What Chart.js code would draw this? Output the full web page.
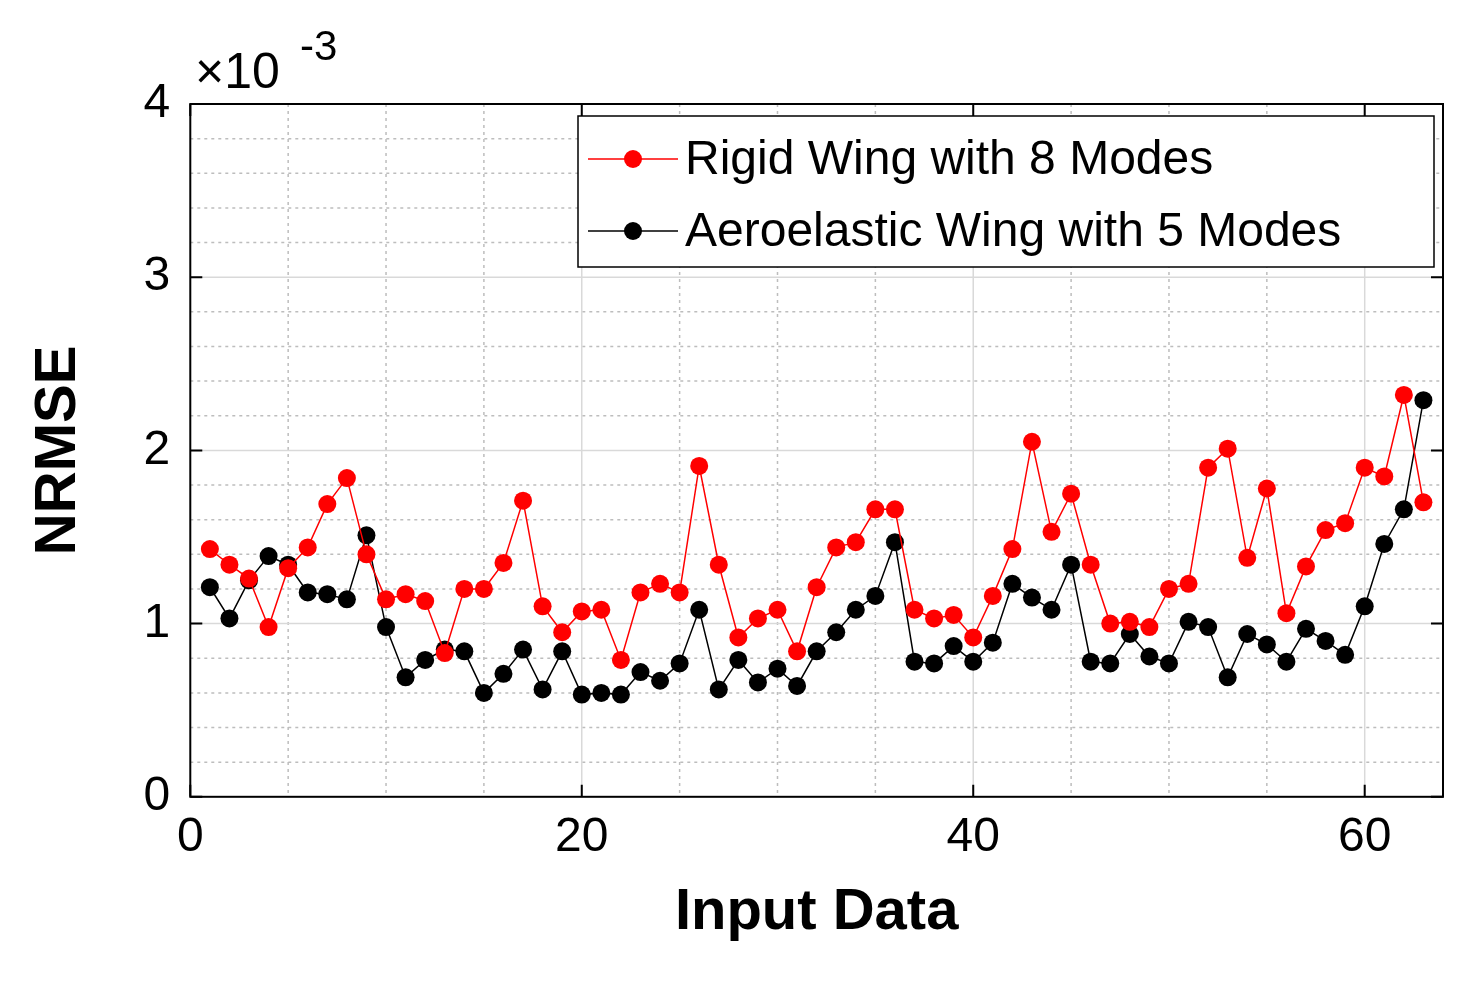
<!DOCTYPE html>
<html><head><meta charset="utf-8">
<script src="https://cdn.jsdelivr.net/npm/chart.js@4"></script>
<style>body{margin:0;background:#fff}canvas{display:block}</style>
</head><body>
<canvas id="c" width="1477" height="988"></canvas>
<script>
const xValues = Array.from({length:63},(_,i)=>i+1);
const rigidLabel = "Rigid Wing with 8 Modes";
const aeroLabel = "Aeroelastic Wing with 5 Modes";
// NRMSE values in units of 1e-3
const rigid = [1.43,1.34,1.26,0.98,1.32,1.44,1.69,1.84,1.40,1.14,1.17,1.13,0.83,1.20,1.20,1.35,1.71,1.10,0.95,1.07,1.08,0.79,1.18,1.23,1.18,1.91,1.34,0.92,1.03,1.08,0.84,1.21,1.44,1.47,1.66,1.66,1.08,1.03,1.05,0.92,1.16,1.43,2.05,1.53,1.75,1.34,1.00,1.01,0.98,1.20,1.23,1.90,2.01,1.38,1.78,1.06,1.33,1.54,1.58,1.90,1.85,2.32,1.70];
const aero = [1.21,1.03,1.25,1.39,1.34,1.18,1.17,1.14,1.51,0.98,0.69,0.79,0.85,0.84,0.60,0.71,0.85,0.62,0.84,0.59,0.60,0.59,0.72,0.67,0.77,1.08,0.62,0.79,0.66,0.74,0.64,0.84,0.95,1.08,1.16,1.47,0.78,0.77,0.87,0.78,0.89,1.23,1.15,1.08,1.34,0.78,0.77,0.94,0.81,0.77,1.01,0.98,0.69,0.94,0.88,0.78,0.97,0.90,0.82,1.10,1.46,1.66,2.29];
const xTicks = [0,20,40,60];
const yTicks = [0,1,2,3,4];

const font = "Arial, 'Liberation Sans', sans-serif";
const gridPlugin = {
  id:'grid',
  beforeDatasetsDraw(ch){
    const {ctx, chartArea:a, scales:{x,y}} = ch;
    ctx.save();
    ctx.lineWidth=1.5;
    ctx.strokeStyle='#bdbdbd'; ctx.setLineDash([3,4]);
    for(let v=5; v<64; v+=5){ if(v%20===0) continue; const px=x.getPixelForValue(v); ctx.beginPath();ctx.moveTo(px,a.top);ctx.lineTo(px,a.bottom);ctx.stroke();}
    for(let v=0.2; v<4; v+=0.2){ if(Math.abs(v-Math.round(v))<1e-6) continue; const py=y.getPixelForValue(v); ctx.beginPath();ctx.moveTo(a.left,py);ctx.lineTo(a.right,py);ctx.stroke();}
    ctx.setLineDash([]); ctx.strokeStyle='#d9d9d9';
    for(const v of [20,40,60]){const px=x.getPixelForValue(v); ctx.beginPath();ctx.moveTo(px,a.top);ctx.lineTo(px,a.bottom);ctx.stroke();}
    for(const v of [1,2,3]){const py=y.getPixelForValue(v); ctx.beginPath();ctx.moveTo(a.left,py);ctx.lineTo(a.right,py);ctx.stroke();}
    ctx.restore();
  },
  afterDatasetsDraw(ch){
    const {ctx, chartArea:a, scales:{x,y}} = ch;
    ctx.save();
    ctx.strokeStyle='#000'; ctx.lineWidth=2;
    ctx.strokeRect(a.left,a.top,a.right-a.left,a.bottom-a.top);
    for(const v of xTicks){const px=x.getPixelForValue(v);ctx.beginPath();ctx.moveTo(px,a.bottom);ctx.lineTo(px,a.bottom-12);ctx.moveTo(px,a.top);ctx.lineTo(px,a.top+12);ctx.stroke();}
    for(const v of yTicks){const py=y.getPixelForValue(v);ctx.beginPath();ctx.moveTo(a.left,py);ctx.lineTo(a.left+12,py);ctx.moveTo(a.right,py);ctx.lineTo(a.right-12,py);ctx.stroke();}
    ctx.fillStyle='#000'; ctx.textBaseline='alphabetic';
    ctx.font='50px '+font; ctx.fillText('\u00d710',195,88);
    ctx.font='42px '+font; ctx.fillText('-3',300,60);
    const lx=578, ly=116, lw=856, lh=151;
    ctx.fillStyle='#fff'; ctx.fillRect(lx,ly,lw,lh);
    ctx.strokeStyle='#000'; ctx.lineWidth=1.5; ctx.strokeRect(lx,ly,lw,lh);
    const items=[[rigidLabel,'#ff0000',159],[aeroLabel,'#000',231]];
    for(const [t,c,yy] of items){
      ctx.strokeStyle=c; ctx.lineWidth=1.5; ctx.beginPath();ctx.moveTo(588,yy);ctx.lineTo(678,yy);ctx.stroke();
      ctx.fillStyle=c; ctx.beginPath();ctx.arc(633,yy,9,0,Math.PI*2);ctx.fill();
      ctx.fillStyle='#000'; ctx.font='48px '+font; ctx.textBaseline='middle'; ctx.fillText(t,685,yy+2);
    }
    ctx.restore();
  }
};

new Chart(document.getElementById('c'),{
  type:'line',
  data:{datasets:[
    {label:rigidLabel,data:xValues.map((v,i)=>({x:v,y:rigid[i]})),borderColor:'#ff0000',backgroundColor:'#ff0000',borderWidth:1.5,pointRadius:9,pointBorderWidth:0,tension:0},
    {label:aeroLabel,data:xValues.map((v,i)=>({x:v,y:aero[i]})),borderColor:'#000',backgroundColor:'#000',borderWidth:1.5,pointRadius:9,pointBorderWidth:0,tension:0}
  ]},
  options:{
    responsive:false,animation:false,
    layout:{padding:{top:104,right:34,left:24,bottom:40}},
    plugins:{legend:{display:false},tooltip:{enabled:false}},
    scales:{
      x:{type:'linear',min:0,max:64,
        afterBuildTicks(s){s.ticks=xTicks.map(v=>({value:v}));},
        grid:{display:false,drawTicks:false},border:{display:false},
        ticks:{color:'#000',font:{size:48,family:font},padding:12,maxRotation:0},
        title:{display:true,text:'Input Data',color:'#000',font:{size:58,weight:'bold',family:font},padding:{top:0,bottom:0}}},
      y:{min:0,max:4,
        afterBuildTicks(s){s.ticks=yTicks.map(v=>({value:v}));},
        grid:{display:false,drawTicks:false},border:{display:false},
        ticks:{color:'#000',font:{size:48,family:font},padding:20},
        title:{display:true,text:'NRMSE',color:'#000',font:{size:58,weight:'bold',family:font},padding:{top:0,bottom:30}}}
    }
  },
  plugins:[gridPlugin]
});
</script>
</body></html>
